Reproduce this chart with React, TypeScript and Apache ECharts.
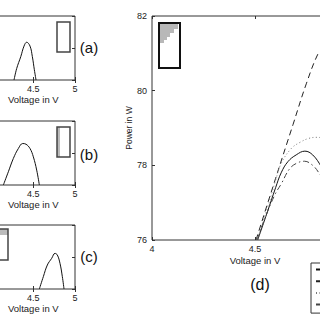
import React, { useEffect, useRef } from "react";
import * as echarts from "echarts";

// Panel (a)-(c): relative power vs voltage
const voltA = [4.268, 4.3, 4.349, 4.388, 4.42, 4.46, 4.488, 4.512, 4.532];
const powerA = [0, 0.18, 0.365, 0.53, 0.59, 0.53, 0.365, 0.16, 0];
const voltB = [4.14, 4.2, 4.26, 4.32, 4.372, 4.412, 4.46, 4.5, 4.54, 4.572];
const powerB = [0, 0.207, 0.415, 0.57, 0.648, 0.637, 0.57, 0.44, 0.233, 0];
const voltC = [4.572, 4.62, 4.668, 4.72, 4.76, 4.788, 4.82, 4.848, 4.868];
const powerC = [0, 0.193, 0.375, 0.479, 0.557, 0.531, 0.4, 0.193, 0];

// Panel (d): power in W vs voltage in V
const voltSolid = [4.513, 4.56, 4.6, 4.627, 4.66, 4.7, 4.742, 4.78, 4.824, 4.85];
const powerSolid = [76, 76.75, 77.4, 77.8, 78.1, 78.28, 78.38, 78.28, 77.95, 77.7];
const voltDashed = [4.505, 4.6, 4.685, 4.75, 4.807, 4.83, 4.86];
const powerDashed = [76, 77.65, 79.1, 80.2, 81.0, 81.12, 81.15];
const voltDotted = [4.51, 4.56, 4.6, 4.627, 4.676, 4.72, 4.76, 4.8, 4.85];
const powerDotted = [76, 76.85, 77.6, 78.05, 78.45, 78.62, 78.72, 78.75, 78.72];
const voltDashDot = [4.51, 4.56, 4.6, 4.627, 4.667, 4.7, 4.74, 4.78, 4.81, 4.85];
const powerDashDot = [76, 76.75, 77.25, 77.5, 77.9, 78.05, 78.11, 78.0, 77.8, 77.45];

const legendNames = ["Pattern 1", "Pattern 2", "Pattern 3", "Pattern 4"];
const voltTicks = { min: 4, max: 5, interval: 0.5 };
const powerTicks = { min: 76, max: 82, interval: 2 };

const zip = (xs: number[], ys: number[]) => xs.map((x, i) => [x, ys[i]]);

const FONT = "Liberation Sans";
const INK = "#222";

export default function App() {
  const ref = useRef<HTMLDivElement>(null);
  useEffect(() => {
    if (!ref.current) return;
    const chart = echarts.init(ref.current, undefined, { renderer: "svg" });

    const smallTops = [16, 121, 225];
    const grids: any[] = smallTops.map((t) => ({
      left: -8.3,
      width: 83.3,
      top: t,
      height: 64,
      show: true,
      borderColor: "#333",
      borderWidth: 1,
      backgroundColor: "transparent",
      containLabel: false,
      outerBoundsMode: "none",
    }));
    grids.push({
      left: 152,
      width: 206,
      top: 16,
      height: 224,
      show: true,
      borderColor: "#333",
      borderWidth: 1,
      backgroundColor: "transparent",
      containLabel: false,
      outerBoundsMode: "none",
    });

    const xAxes: any[] = [];
    const yAxes: any[] = [];
    for (let i = 0; i < 4; i++) {
      xAxes.push({
        gridIndex: i,
        type: "value",
        ...voltTicks,
        axisLine: { show: false },
        axisTick: { inside: true, length: 3, lineStyle: { color: "#333" } },
        axisLabel: {
          fontSize: 9,
          margin: 4,
          color: INK,
          fontFamily: FONT,
          showMinLabel: i === 3,
          showMaxLabel: i !== 3,
        },
        splitLine: { show: false },
        name: "Voltage in V",
        nameLocation: "middle",
        nameGap: i < 3 ? 14 : 15,
        nameMoveOverlap: false,
        nameTextStyle: { fontSize: 9.5, color: INK, fontFamily: FONT },
      });
      xAxes.push({
        gridIndex: i,
        type: "value",
        position: "top",
        ...voltTicks,
        axisLine: { show: false },
        axisTick: { inside: true, length: 3, lineStyle: { color: "#333" } },
        axisLabel: { show: false },
        splitLine: { show: false },
      });
    }
    for (let i = 0; i < 3; i++) {
      yAxes.push({
        gridIndex: i,
        type: "value",
        min: 0,
        max: 1,
        interval: 0.5,
        axisLine: { show: false },
        axisTick: { show: false },
        axisLabel: { show: false },
        splitLine: { show: false },
      });
      yAxes.push({
        gridIndex: i,
        type: "value",
        position: "right",
        min: 0,
        max: 1,
        interval: 0.5,
        axisLine: { show: false },
        axisTick: { inside: true, length: 3, lineStyle: { color: "#333" } },
        axisLabel: { show: false },
        splitLine: { show: false },
      });
    }
    yAxes.push({
      gridIndex: 3,
      type: "value",
      ...powerTicks,
      axisLine: { show: false },
      axisTick: { inside: true, length: 3, lineStyle: { color: "#333" } },
      axisLabel: { fontSize: 9, margin: 5, color: INK, fontFamily: FONT },
      splitLine: { show: false },
      name: "Power in W",
      nameLocation: "middle",
      nameGap: 19,
      nameMoveOverlap: false,
      nameTextStyle: { fontSize: 8.5, color: INK, fontFamily: FONT },
    });

    const small = (i: number, xs: number[], ys: number[]) => ({
      type: "line",
      xAxisIndex: 2 * i,
      yAxisIndex: 2 * i,
      data: zip(xs, ys),
      showSymbol: false,
      symbol: "none",
      smooth: 0.4,
      lineStyle: { color: "#111", width: 1 },
      silent: true,
    });
    const big = (name: string, xs: number[], ys: number[], type: any, color: string) => ({
      type: "line",
      name,
      xAxisIndex: 6,
      yAxisIndex: 6,
      data: zip(xs, ys),
      symbol: "none",
      smooth: 0.4,
      lineStyle: { color, width: 1, type },
      itemStyle: { color },
      silent: true,
    });

    const stair = [
      [160, 24], [178, 24], [178, 29], [174, 29], [174, 33], [170, 33],
      [170, 37], [167, 37], [167, 40], [164, 40], [164, 43], [160, 43],
    ];

    const label = (text: string, x: number, y: number, size: number) => ({
      type: "text",
      x,
      y,
      style: {
        text,
        fontSize: size,
        fontFamily: FONT,
        fill: "#111",
        align: "center",
        verticalAlign: "middle",
      },
    });

    chart.setOption({
      animation: false,
      backgroundColor: "#fff",
      textStyle: { fontFamily: FONT },
      grid: grids,
      xAxis: xAxes,
      yAxis: yAxes,
      legend: {
        data: legendNames,
        orient: "vertical",
        left: 311,
        top: 263,
        itemWidth: 22,
        itemHeight: 10,
        itemGap: 2.7,
        padding: [2, 4, 4, 4],
        borderColor: "#333",
        borderWidth: 1,
        backgroundColor: "#fff",
        textStyle: { fontSize: 9, color: INK, fontFamily: FONT },
        selectedMode: false,
      },
      series: [
        small(0, voltA, powerA),
        small(1, voltB, powerB),
        small(2, voltC, powerC),
        big(legendNames[0], voltSolid, powerSolid, "solid", "#111"),
        big(legendNames[1], voltDashed, powerDashed, [6, 4], "#222"),
        big(legendNames[2], voltDotted, powerDotted, [1, 2.5], "#777"),
        big(legendNames[3], voltDashDot, powerDashDot, [6, 3, 1.5, 3], "#444"),
      ],
      graphic: [
        // inset of (a)
        { type: "rect", shape: { x: 57, y: 22, width: 13, height: 30 }, style: { fill: "#fff", stroke: "#444", lineWidth: 1.5 } },
        // inset of (b)
        { type: "rect", shape: { x: 57, y: 127, width: 3, height: 30 }, style: { fill: "#bbb" } },
        { type: "rect", shape: { x: 57, y: 127, width: 13, height: 30 }, style: { fill: "none", stroke: "#444", lineWidth: 1.5 } },
        // inset of (c)
        { type: "rect", shape: { x: -6, y: 229, width: 14, height: 6 }, style: { fill: "#bbb" } },
        { type: "rect", shape: { x: -6, y: 229, width: 14, height: 31 }, style: { fill: "none", stroke: "#444", lineWidth: 1.5 } },
        // inset of (d)
        { type: "rect", shape: { x: 159, y: 23, width: 21, height: 45 }, style: { fill: "#fff", stroke: "#111", lineWidth: 2 } },
        { type: "polygon", shape: { points: stair }, style: { fill: "#b8b8b8" } },
        label("(a)", 89, 47, 15),
        label("(b)", 89, 154, 15),
        label("(c)", 89, 256, 15),
        label("(d)", 260, 284, 16),
      ],
    });
    return () => chart.dispose();
  }, []);
  return (
    <div
      ref={ref}
      style={{ position: "fixed", left: 0, top: 0, width: 320, height: 320, background: "#fff" }}
    />
  );
}
